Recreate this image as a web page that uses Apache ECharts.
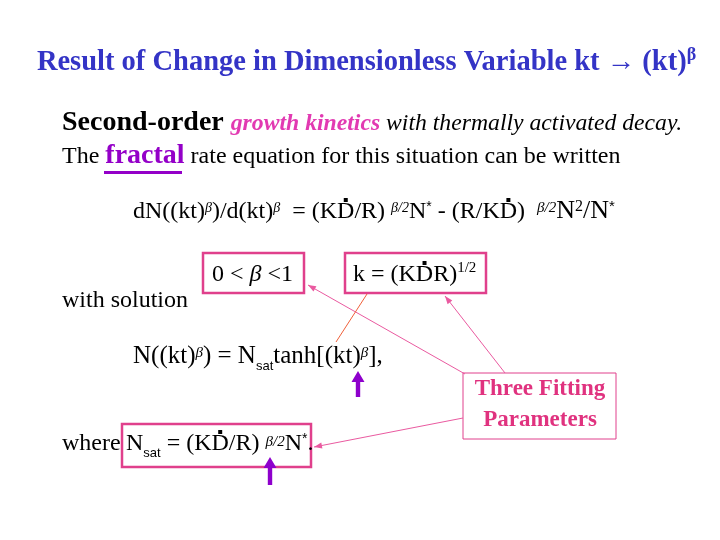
<!DOCTYPE html>
<html>
<head>
<meta charset="utf-8">
<script src="https://cdn.jsdelivr.net/npm/echarts@6/dist/echarts.min.js"></script>
<style>html,body{margin:0;padding:0;background:#fff}#c{width:720px;height:540px}</style>
</head>
<body>
<div id="c"></div>
<script>
// ---------- text content (segments: [text, tokenStyle]) ----------
const titleText = [['Result of Change in Dimensionless Variable kt ', 'title'], ['\u2192', 'arrow'], [' (kt)', 'title'], ['\u03b2', 'titleSup']];
const introLine = [['Second-order ', 'lead'], ['growth kinetics', 'pink'], [' with thermally activated decay.', 'ital']];
const fractalLine = [['The ', 'n'], ['fractal', 'frac'], [' rate equation for this situation can be written', 'n']];
const rateEquation = [['dN((kt)', 'n'], ['\u03b2', 'supB'], [')/d(kt)', 'n'], ['\u03b2', 'supB'], ['  = (K', 'n'], ['D', 'dotD'], ['/R) ', 'n'], ['\u03b2/2', 'supB'], ['N', 'n'], ['*', 'supS'], [' - (R/K', 'n'], ['D', 'dotD'], [')  ', 'n'], ['\u03b2/2', 'supB3'], ['N', 'w'], ['2', 'supT'], ['/N', 'w'], ['*', 'supS2']];
const betaRange = [['0 < ', 'n'], ['\u03b2', 'itB'], [' <1', 'n']];
const rateConstant = [['k = (K', 'n'], ['D', 'dotD'], ['R)', 'n'], ['1/2', 'supH']];
const solutionLabel = [['with solution', 'n']];
const solution = [['N((kt)', 'm'], ['\u03b2', 'supB3'], [') = N', 'm'], ['sat', 'sub'], ['tanh[(kt)', 'm'], ['\u03b2', 'supB3'], ['],', 'm']];
const calloutLines = [[['Three Fitting', 'call']], [['Parameters', 'call']]];
const whereLabel = [['where', 'n']];
const saturation = [['N', 'n'], ['sat', 'sub'], [' = (K', 'n'], ['D', 'dotD'], ['/R) ', 'n'], ['\u03b2/2', 'supB2'], ['N', 'n'], ['*', 'supS'], ['.', 'n']];

// ---------- styles ----------
const FF = "'Liberation Serif','Times New Roman',serif";
const FS = "'Liberation Sans',Arial,sans-serif";
const BLUE = '#3434c6', PINK = '#e23ab2', CALL = '#e0327f', PURPLE = '#9400c8';
const BOX = '#e0408c', LINK = '#ea5aa0', ORANGE = '#f0603a', ARROW = '#8e00cc';
const pinkShadow = {textShadowColor: 'rgba(130,20,90,0.55)', textShadowOffsetX: 1, textShadowOffsetY: 1, textShadowBlur: 0};
const callShadow = {textShadowColor: 'rgba(120,40,80,0.45)', textShadowOffsetX: 1, textShadowOffsetY: 1, textShadowBlur: 0};
const tokenStyles = {
  title: {weight: 'bold', size: 28.5, fill: BLUE},
  arrow: {size: 28.5, fill: BLUE},
  titleSup: {weight: 'bold', size: 18, fill: BLUE, raise: 11},
  lead: {weight: 'bold', size: 28},
  pink: {style: 'italic', weight: 'bold', size: 23.7, fill: PINK, extra: pinkShadow},
  ital: {style: 'italic', size: 23.7},
  n: {size: 24},
  m: {size: 25},
  w: {size: 26},
  frac: {weight: 'bold', size: 28, fill: PURPLE},
  dotD: {size: 24},
  supB: {style: 'italic', size: 14, raise: 7},
  supB3: {style: 'italic', size: 15, raise: 7},
  supB2: {style: 'italic', size: 15, raise: 5},
  supS: {size: 14, family: FS, raise: 8},
  supS2: {size: 15, family: FS, raise: 8},
  supT: {size: 16, raise: 8},
  supH: {size: 15, raise: 10},
  itB: {style: 'italic', size: 24},
  sub: {size: 13, family: FS, raise: -6},
  call: {weight: 'bold', size: 23, fill: CALL, extra: callShadow}
};
const K = 0.34;
function fontOf(s) { return [s.style || 'normal', s.weight || 'normal', s.size + 'px', s.family || FF].join(' '); }
const mctx = document.createElement('canvas').getContext('2d');
function widthOf(t, key) { mctx.font = fontOf(tokenStyles[key]); return mctx.measureText(t).width; }

function richText(segs, x, baseline, base, L, align) {
  const rich = {};
  segs.forEach(([, key]) => {
    if (rich[key]) return;
    const s = tokenStyles[key];
    const r = s.raise || 0;
    let h = 2 * (L / 2 + K * (base - s.size) - r);
    let va = 'top';
    if (h > L) { h = 2 * L - h; va = 'bottom'; }
    rich[key] = Object.assign({font: fontOf(s), fill: s.fill || '#000', height: h, lineHeight: h, verticalAlign: va}, s.extra || {});
  });
  const text = segs.map(([t, k]) => '{' + k + '|' + t + '}').join('');
  return {type: 'text', x: x, y: baseline - K * base - L / 2,
    style: {text: text, rich: rich, align: align || 'left', textAlign: align || 'left', verticalAlign: 'top', textVerticalAlign: 'top'}};
}
function dotsFor(segs, x, baseline) {
  let cx = x; const out = [];
  segs.forEach(([t, k]) => {
    const w = widthOf(t, k);
    if (k === 'dotD') out.push({type: 'rect', shape: {x: cx + w / 2 - 2, y: baseline - 22, width: 4, height: 4}, style: {fill: '#000'}});
    cx += w;
  });
  return out;
}
function box(x, y, w, h, lw) { return {type: 'rect', shape: {x: x, y: y, width: w, height: h}, style: {fill: 'none', stroke: BOX, lineWidth: lw}}; }
function link(x1, y1, x2, y2, color, head) {
  const els = [{type: 'line', shape: {x1: x1, y1: y1, x2: x2, y2: y2}, style: {stroke: color, lineWidth: 1}}];
  if (head) {
    const a = Math.atan2(y2 - y1, x2 - x1), len = 8, hw = 3;
    const bx = x2 - len * Math.cos(a), by = y2 - len * Math.sin(a);
    els.push({type: 'polygon', shape: {points: [[x2, y2], [bx - hw * Math.sin(a), by + hw * Math.cos(a)], [bx + hw * Math.sin(a), by - hw * Math.cos(a)]]}, style: {fill: color}});
  }
  return els;
}
function upArrow(cx, tipY, tailY) {
  const hw = 6.5, sw = 2.2, hl = 11;
  return {type: 'polygon', shape: {points: [[cx, tipY], [cx + hw, tipY + hl], [cx + sw, tipY + hl], [cx + sw, tailY], [cx - sw, tailY], [cx - sw, tipY + hl], [cx - hw, tipY + hl]]}, style: {fill: ARROW}};
}

const els = [];
els.push(richText(titleText, 366.5, 72, 28.5, 38, 'center'));
els.push(richText(introLine, 62, 132, 24, 34));
els.push(richText(fractalLine, 62, 165, 24, 34));
els.push({type: 'line', shape: {x1: 104, y1: 172.5, x2: 182, y2: 172.5}, style: {stroke: PURPLE, lineWidth: 3}});
els.push(richText(rateEquation, 133, 220, 24, 30));
els.push(...dotsFor(rateEquation, 133, 220));
els.push(box(203, 253, 101, 40, 2.5));
els.push(box(345, 253, 141, 40, 2.5));
els.push(richText(betaRange, 212, 283, 24, 30));
els.push(richText(rateConstant, 353, 283, 24, 30));
els.push(...dotsFor(rateConstant, 353, 283));
els.push(richText(solutionLabel, 62, 309, 24, 30));
els.push(richText(solution, 133, 365, 25, 30));
els.push(box(463, 373, 153, 66, 1));
els.push(richText(calloutLines[0], 540, 397, 23, 30, 'center'));
els.push(richText(calloutLines[1], 540, 428, 23, 30, 'center'));
els.push(richText(whereLabel, 62, 452, 24, 30));
els.push(box(122, 424, 189, 43, 2.5));
els.push(richText(saturation, 126, 452, 24, 30));
els.push(...dotsFor(saturation, 126, 452));
els.push(...link(465, 374, 308, 285, LINK, true));
els.push(...link(505, 373, 445, 296, LINK, true));
els.push(...link(463, 418, 314, 447, LINK, true));
els.push(...link(367, 294, 336, 342, ORANGE, false));
els.push(upArrow(358, 371, 397));
els.push(upArrow(270, 457, 485));

const chart = echarts.init(document.getElementById('c'), null, {renderer: 'canvas', width: 720, height: 540});
chart.setOption({backgroundColor: '#fff', animation: false, graphic: {elements: els}});
</script>
</body>
</html>
